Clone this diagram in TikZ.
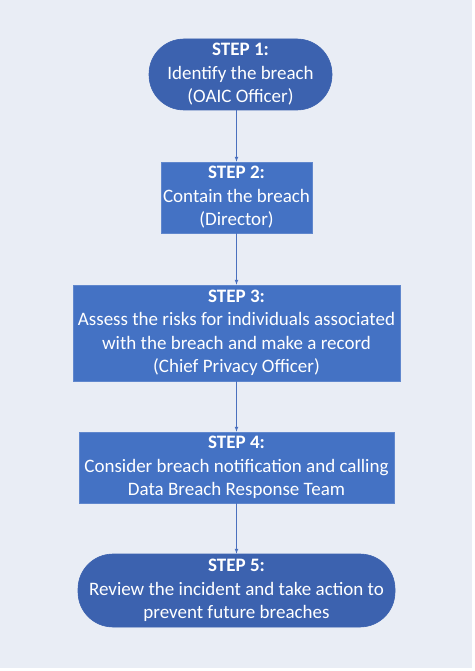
\documentclass[tikz,border=0pt]{standalone}
\usepackage{fontspec}
\setmainfont{Carlito}
\usetikzlibrary{positioning,arrows}
\definecolor{bgblue}{HTML}{E9EDF5}
\definecolor{boxblue}{HTML}{4472C4}
\definecolor{endblue}{HTML}{3C62AF}
\definecolor{lineblue}{HTML}{4A70BE}
\tikzset{
  stepbox/.style={rectangle, fill=boxblue, draw=boxblue!85!white, line width=.6pt, text=white, align=center, inner sep=0pt, font=\fontsize{19}{23.5}\selectfont},
  stepend/.style={rectangle, rounded corners=35pt, fill=endblue, draw=endblue, line width=.6pt, text=white, align=center, inner sep=0pt, font=\fontsize{19}{23.5}\selectfont},
  flow/.style={lineblue, line width=.7pt, -latex}
}
\begin{document}
\begin{tikzpicture}[x=1pt,y=-1pt]
\useasboundingbox (0,0) rectangle (474,671);
% Background
\fill[bgblue] (0,0) rectangle (472,668);
% Steps
\node[stepend, minimum width=183, minimum height=71] (S1) at (240.5,74.5) {\textbf{STEP 1:}\\Identify the breach\\(OAIC Officer)};
\node[stepbox, minimum width=151, minimum height=71] (S2) at (236.5,197.5) {\textbf{STEP 2:}\\Contain the breach\\(Director)};
\node[stepbox, minimum width=327, minimum height=96] (S3) at (236.5,333) {\textbf{STEP 3:}\\Assess the risks for individuals associated\\with the breach and make a record\\(Chief Privacy Officer)};
\node[stepbox, minimum width=315, minimum height=71] (S4) at (236.5,467.5) {\textbf{STEP 4:}\\Consider breach notification and calling\\Data Breach Response Team};
\node[stepend, minimum width=317, minimum height=73] (S5) at (236.5,590.5) {\textbf{STEP 5:}\\Review the incident and take action to\\prevent future breaches};
% Arrows
\draw[flow] (S1.south -| S2.north) -- (S2.north);
\draw[flow] (S2.south) -- (S3.north);
\draw[flow] (S3.south) -- (S4.north);
\draw[flow] (S4.south) -- (S5.north);
\end{tikzpicture}
\end{document}
